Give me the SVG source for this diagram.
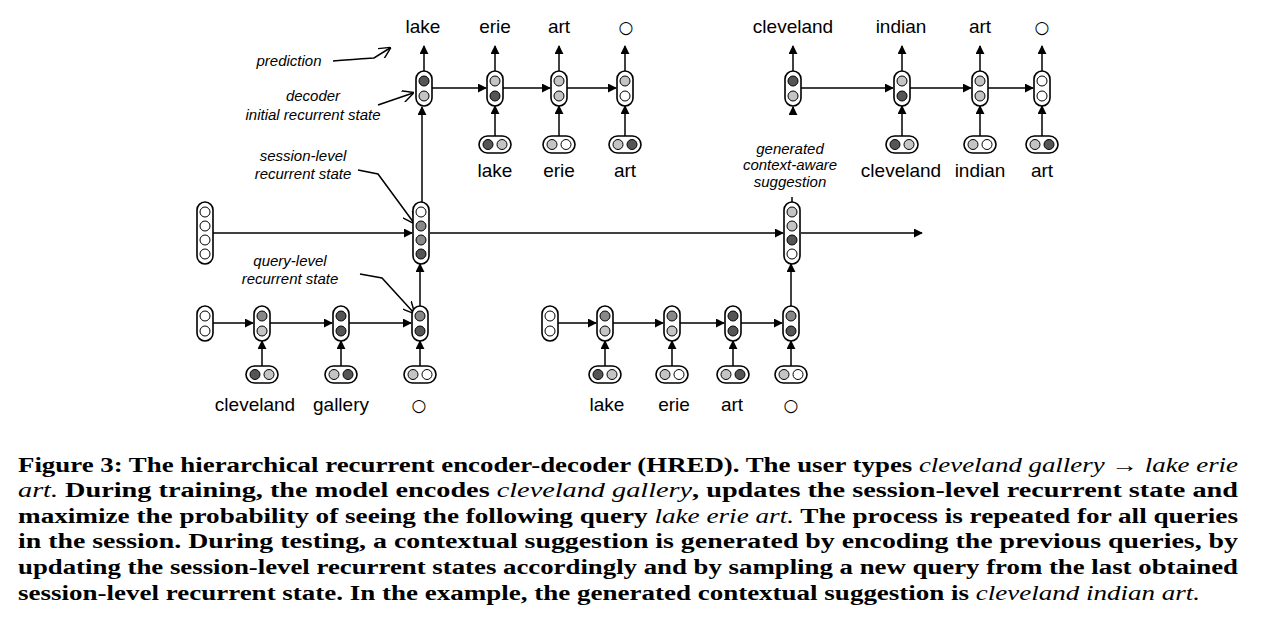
<svg xmlns="http://www.w3.org/2000/svg" width="1266" height="622" viewBox="0 0 1266 622">
<style>
.p{fill:#fff;stroke:#000;stroke-width:1.6}
.c{stroke:#000;stroke-width:1}
.d{fill:#555}.m{fill:#888}.l{fill:#c4c4c4}.w{fill:#fff}
.e{stroke:#000;stroke-width:1.5;fill:none}
.lb{font-family:"Liberation Sans",Arial,sans-serif;font-size:19px;text-anchor:middle}
.o{font-family:"DejaVu Sans",sans-serif;font-size:17px;text-anchor:middle}
.an{font-family:"Liberation Sans",Arial,sans-serif;font-size:15px;font-style:italic;text-anchor:middle}
.cap{font-family:"Liberation Serif","Times New Roman",serif;font-size:20px;font-weight:bold}
.it{font-style:italic;font-weight:normal}
</style>
<defs>
<marker id="a" viewBox="0 0 10 10" refX="9" refY="5" markerWidth="9" markerHeight="9" markerUnits="userSpaceOnUse" orient="auto"><path d="M0,0L10,5L0,10z"/></marker>
<marker id="o" viewBox="0 0 10 10" refX="9" refY="5" markerWidth="12" markerHeight="12" markerUnits="userSpaceOnUse" orient="auto"><path d="M0,0L10,5L0,10" fill="none" stroke="#000" stroke-width="1.2"/></marker>
</defs>
<g id="connectors">
<path class="e" marker-end="url(#a)" d="M213 233H412"/>
<path class="e" marker-end="url(#a)" d="M430 233H783"/>
<path class="e" marker-end="url(#a)" d="M801 233H922"/>
<path class="e" marker-end="url(#a)" d="M422 203V107"/>
<path class="e" marker-end="url(#a)" d="M420 306V264"/>
<path class="e" marker-end="url(#a)" d="M791 306V264"/>
<path class="e" d="M792 203V197"/>
<path class="e" marker-end="url(#a)" d="M793 113V107"/>
<path class="e" marker-end="url(#a)" d="M432 88H486"/>
<path class="e" marker-end="url(#a)" d="M503 88H550"/>
<path class="e" marker-end="url(#a)" d="M567 88H616"/>
<path class="e" marker-end="url(#a)" d="M801 88H893"/>
<path class="e" marker-end="url(#a)" d="M910 88H971"/>
<path class="e" marker-end="url(#a)" d="M988 88H1033"/>
<path class="e" marker-end="url(#a)" d="M424 71V46"/>
<path class="e" marker-end="url(#a)" d="M495 71V46"/>
<path class="e" marker-end="url(#a)" d="M559 71V46"/>
<path class="e" marker-end="url(#a)" d="M625 71V46"/>
<path class="e" marker-end="url(#a)" d="M793 71V46"/>
<path class="e" marker-end="url(#a)" d="M902 71V46"/>
<path class="e" marker-end="url(#a)" d="M980 71V46"/>
<path class="e" marker-end="url(#a)" d="M1042 71V46"/>
<path class="e" marker-end="url(#a)" d="M495 136V106"/>
<path class="e" marker-end="url(#a)" d="M559 136V106"/>
<path class="e" marker-end="url(#a)" d="M625 136V106"/>
<path class="e" marker-end="url(#a)" d="M902 136V106"/>
<path class="e" marker-end="url(#a)" d="M980 136V106"/>
<path class="e" marker-end="url(#a)" d="M1042 136V106"/>
<path class="e" marker-end="url(#a)" d="M213 323H253"/>
<path class="e" marker-end="url(#a)" d="M270 323H332"/>
<path class="e" marker-end="url(#a)" d="M349 323H411"/>
<path class="e" marker-end="url(#a)" d="M558 323H596"/>
<path class="e" marker-end="url(#a)" d="M613 323H663"/>
<path class="e" marker-end="url(#a)" d="M680 323H724"/>
<path class="e" marker-end="url(#a)" d="M741 323H782"/>
<path class="e" marker-end="url(#a)" d="M262 366V341"/>
<path class="e" marker-end="url(#a)" d="M341 366V341"/>
<path class="e" marker-end="url(#a)" d="M420 366V341"/>
<path class="e" marker-end="url(#a)" d="M605 366V341"/>
<path class="e" marker-end="url(#a)" d="M672 366V341"/>
<path class="e" marker-end="url(#a)" d="M733 366V341"/>
<path class="e" marker-end="url(#a)" d="M791 366V341"/>
<path class="e" stroke-width="1.1" marker-end="url(#o)" d="M333 61Q370 58 374 58L390 48"/>
<path class="e" stroke-width="1.1" marker-end="url(#o)" d="M378 105L413 93"/>
<path class="e" stroke-width="1.1" marker-end="url(#o)" d="M358 170L378 174L414 223"/>
<path class="e" stroke-width="1.1" marker-end="url(#o)" d="M360 274L382 278L414 313"/>
</g>
<g id="session">
<g id="s0"><rect class="p" x="197" y="202" width="16" height="62" rx="8"/><circle class="c w" cx="205" cy="212" r="5"/><circle class="c w" cx="205" cy="226" r="5"/><circle class="c w" cx="205" cy="240" r="5"/><circle class="c w" cx="205" cy="254" r="5"/></g>
<g id="s1"><rect class="p" x="413" y="202" width="16" height="62" rx="8"/><circle class="c w" cx="421" cy="212" r="5"/><circle class="c m" cx="421" cy="226" r="5"/><circle class="c m" cx="421" cy="240" r="5"/><circle class="c d" cx="421" cy="254" r="5"/></g>
<g id="s2"><rect class="p" x="784" y="202" width="16" height="62" rx="8"/><circle class="c l" cx="792" cy="212" r="5"/><circle class="c l" cx="792" cy="226" r="5"/><circle class="c d" cx="792" cy="240" r="5"/><circle class="c w" cx="792" cy="254" r="5"/></g>
</g>
<g id="decoder1">
<g id="d1a"><rect class="p" x="416" y="71" width="16" height="35" rx="8"/><circle class="c d" cx="424" cy="81" r="5"/><circle class="c l" cx="424" cy="96" r="5"/></g>
<g id="d1b"><rect class="p" x="487" y="71" width="16" height="35" rx="8"/><circle class="c l" cx="495" cy="81" r="5"/><circle class="c d" cx="495" cy="96" r="5"/></g>
<g id="d1c"><rect class="p" x="551" y="71" width="16" height="35" rx="8"/><circle class="c l" cx="559" cy="81" r="5"/><circle class="c l" cx="559" cy="96" r="5"/></g>
<g id="d1d"><rect class="p" x="617" y="71" width="16" height="35" rx="8"/><circle class="c l" cx="625" cy="81" r="5"/><circle class="c w" cx="625" cy="96" r="5"/></g>
<g id="i1a"><rect class="p" x="479" y="136" width="32" height="17" rx="8.5"/><circle class="c d" cx="488" cy="144.5" r="5"/><circle class="c l" cx="502" cy="144.5" r="5"/></g>
<g id="i1b"><rect class="p" x="543" y="136" width="32" height="17" rx="8.5"/><circle class="c l" cx="552" cy="144.5" r="5"/><circle class="c w" cx="566" cy="144.5" r="5"/></g>
<g id="i1c"><rect class="p" x="609" y="136" width="32" height="17" rx="8.5"/><circle class="c l" cx="618" cy="144.5" r="5"/><circle class="c d" cx="632" cy="144.5" r="5"/></g>
</g>
<g id="decoder2">
<g id="d2a"><rect class="p" x="785" y="71" width="16" height="35" rx="8"/><circle class="c d" cx="793" cy="81" r="5"/><circle class="c l" cx="793" cy="96" r="5"/></g>
<g id="d2b"><rect class="p" x="894" y="71" width="16" height="35" rx="8"/><circle class="c l" cx="902" cy="81" r="5"/><circle class="c d" cx="902" cy="96" r="5"/></g>
<g id="d2c"><rect class="p" x="972" y="71" width="16" height="35" rx="8"/><circle class="c l" cx="980" cy="81" r="5"/><circle class="c l" cx="980" cy="96" r="5"/></g>
<g id="d2d"><rect class="p" x="1034" y="71" width="16" height="35" rx="8"/><circle class="c w" cx="1042" cy="81" r="5"/><circle class="c w" cx="1042" cy="96" r="5"/></g>
<g id="i2a"><rect class="p" x="886" y="136" width="32" height="17" rx="8.5"/><circle class="c d" cx="895" cy="144.5" r="5"/><circle class="c l" cx="909" cy="144.5" r="5"/></g>
<g id="i2b"><rect class="p" x="964" y="136" width="32" height="17" rx="8.5"/><circle class="c l" cx="973" cy="144.5" r="5"/><circle class="c w" cx="987" cy="144.5" r="5"/></g>
<g id="i2c"><rect class="p" x="1026" y="136" width="32" height="17" rx="8.5"/><circle class="c l" cx="1035" cy="144.5" r="5"/><circle class="c d" cx="1049" cy="144.5" r="5"/></g>
</g>
<g id="encoder1">
<g id="e1a"><rect class="p" x="197" y="306" width="16" height="35" rx="8"/><circle class="c w" cx="205" cy="316" r="5"/><circle class="c w" cx="205" cy="331" r="5"/></g>
<g id="e1b"><rect class="p" x="254" y="306" width="16" height="35" rx="8"/><circle class="c m" cx="262" cy="316" r="5"/><circle class="c l" cx="262" cy="331" r="5"/></g>
<g id="e1c"><rect class="p" x="333" y="306" width="16" height="35" rx="8"/><circle class="c d" cx="341" cy="316" r="5"/><circle class="c d" cx="341" cy="331" r="5"/></g>
<g id="e1d"><rect class="p" x="412" y="306" width="16" height="35" rx="8"/><circle class="c m" cx="420" cy="316" r="5"/><circle class="c d" cx="420" cy="331" r="5"/></g>
<g id="j1a"><rect class="p" x="246" y="366" width="32" height="17" rx="8.5"/><circle class="c d" cx="255" cy="374.5" r="5"/><circle class="c l" cx="269" cy="374.5" r="5"/></g>
<g id="j1b"><rect class="p" x="325" y="366" width="32" height="17" rx="8.5"/><circle class="c l" cx="334" cy="374.5" r="5"/><circle class="c d" cx="348" cy="374.5" r="5"/></g>
<g id="j1c"><rect class="p" x="404" y="366" width="32" height="17" rx="8.5"/><circle class="c l" cx="413" cy="374.5" r="5"/><circle class="c w" cx="427" cy="374.5" r="5"/></g>
</g>
<g id="encoder2">
<g id="e2a"><rect class="p" x="542" y="306" width="16" height="35" rx="8"/><circle class="c w" cx="550" cy="316" r="5"/><circle class="c w" cx="550" cy="331" r="5"/></g>
<g id="e2b"><rect class="p" x="597" y="306" width="16" height="35" rx="8"/><circle class="c m" cx="605" cy="316" r="5"/><circle class="c l" cx="605" cy="331" r="5"/></g>
<g id="e2c"><rect class="p" x="664" y="306" width="16" height="35" rx="8"/><circle class="c m" cx="672" cy="316" r="5"/><circle class="c l" cx="672" cy="331" r="5"/></g>
<g id="e2d"><rect class="p" x="725" y="306" width="16" height="35" rx="8"/><circle class="c d" cx="733" cy="316" r="5"/><circle class="c d" cx="733" cy="331" r="5"/></g>
<g id="e2e"><rect class="p" x="783" y="306" width="16" height="35" rx="8"/><circle class="c m" cx="791" cy="316" r="5"/><circle class="c d" cx="791" cy="331" r="5"/></g>
<g id="j2a"><rect class="p" x="589" y="366" width="32" height="17" rx="8.5"/><circle class="c d" cx="598" cy="374.5" r="5"/><circle class="c l" cx="612" cy="374.5" r="5"/></g>
<g id="j2b"><rect class="p" x="656" y="366" width="32" height="17" rx="8.5"/><circle class="c l" cx="665" cy="374.5" r="5"/><circle class="c w" cx="679" cy="374.5" r="5"/></g>
<g id="j2c"><rect class="p" x="717" y="366" width="32" height="17" rx="8.5"/><circle class="c l" cx="726" cy="374.5" r="5"/><circle class="c d" cx="740" cy="374.5" r="5"/></g>
<g id="j2d"><rect class="p" x="775" y="366" width="32" height="17" rx="8.5"/><circle class="c l" cx="784" cy="374.5" r="5"/><circle class="c w" cx="798" cy="374.5" r="5"/></g>
</g>
<g id="labels">
<text class="lb" x="423" y="33">lake</text><text class="lb" x="495" y="33">erie</text><text class="lb" x="559" y="33">art</text><text class="o" x="626" y="33">○</text>
<text class="lb" x="495" y="177">lake</text><text class="lb" x="559" y="177">erie</text><text class="lb" x="625" y="177">art</text>
<text class="lb" x="793" y="33">cleveland</text><text class="lb" x="901" y="33">indian</text><text class="lb" x="980" y="33">art</text><text class="o" x="1042" y="33">○</text>
<text class="lb" x="901" y="177">cleveland</text><text class="lb" x="980" y="177">indian</text><text class="lb" x="1042" y="177">art</text>
<text class="lb" x="255" y="411">cleveland</text><text class="lb" x="341" y="411">gallery</text><text class="o" x="419" y="411">○</text>
<text class="lb" x="607" y="411">lake</text><text class="lb" x="674" y="411">erie</text><text class="lb" x="732" y="411">art</text><text class="o" x="791" y="411">○</text>
<text class="an" x="289" y="66">prediction</text>
<text class="an" x="313" y="101">decoder</text><text class="an" x="313" y="120">initial recurrent state</text>
<text class="an" x="303" y="161">session-level</text><text class="an" x="303" y="179">recurrent state</text>
<text class="an" x="290" y="266">query-level</text><text class="an" x="290" y="284">recurrent state</text>
<text class="an" x="790" y="154">generated</text><text class="an" x="790" y="170">context-aware</text><text class="an" x="790" y="187">suggestion</text>
</g>
<g id="caption" class="cap">
<text x="18" y="472" textLength="1220" lengthAdjust="spacingAndGlyphs">Figure 3: The hierarchical recurrent encoder-decoder (HRED). The user types <tspan class="it">cleveland gallery</tspan> <tspan font-weight="normal">→</tspan> <tspan class="it">lake erie</tspan></text>
<text x="18" y="497" textLength="1220" lengthAdjust="spacingAndGlyphs"><tspan class="it">art.</tspan> During training, the model encodes <tspan class="it">cleveland gallery</tspan>, updates the session-level recurrent state and</text>
<text x="18" y="523" textLength="1220" lengthAdjust="spacingAndGlyphs">maximize the probability of seeing the following query <tspan class="it">lake erie art.</tspan> The process is repeated for all queries</text>
<text x="18" y="548" textLength="1220" lengthAdjust="spacingAndGlyphs">in the session. During testing, a contextual suggestion is generated by encoding the previous queries, by</text>
<text x="18" y="574" textLength="1220" lengthAdjust="spacingAndGlyphs">updating the session-level recurrent states accordingly and by sampling a new query from the last obtained</text>
<text x="18" y="600" textLength="1182" lengthAdjust="spacingAndGlyphs">session-level recurrent state. In the example, the generated contextual suggestion is <tspan class="it">cleveland indian art.</tspan></text>
</g>
</svg>
